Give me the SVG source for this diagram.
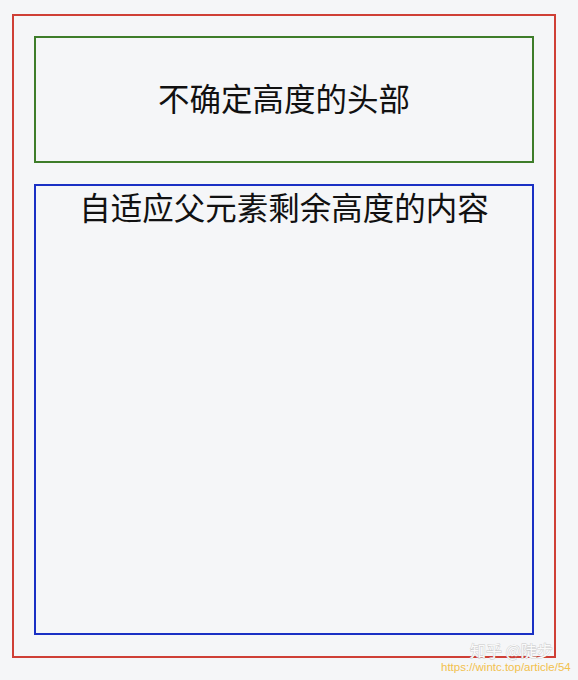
<svg xmlns="http://www.w3.org/2000/svg" width="578" height="680" viewBox="0 0 578 680">
<style>
.box{fill:none;stroke-width:2}
.t{font-family:"Noto Sans CJK SC","Liberation Sans",sans-serif;font-size:31.5px;fill:#111;text-anchor:middle}
.wm{font-family:"Noto Sans CJK SC","Liberation Sans",sans-serif;fill:#fafafa;stroke:#c8c8c8;stroke-width:0.8;paint-order:stroke}
.url{font-family:"Liberation Sans","Noto Sans CJK SC",sans-serif;font-size:11.5px;fill:#f2c14e}
</style>
<rect width="578" height="680" fill="#f5f6f8"/>
<g id="container"><rect class="box" x="13" y="15" width="542" height="642" stroke="#cf3f36"/></g>
<g id="header">
<rect class="box" x="35" y="37" width="498" height="125" stroke="#3e7d2a"/>
<text class="t" x="284" y="111">不确定高度的头部</text>
</g>
<g id="content">
<rect class="box" x="35" y="185" width="498" height="449" stroke="#1a30c4"/>
<text class="t" x="284" y="220">自适应父元素剩余高度的内容</text>
</g>
<g id="connectors"></g>
<g id="watermark">
<text class="wm" x="470" y="657" font-size="16">知乎 @陡步</text>
<text class="url" x="441" y="671">https://wintc.top/article/54</text>
</g>
</svg>
